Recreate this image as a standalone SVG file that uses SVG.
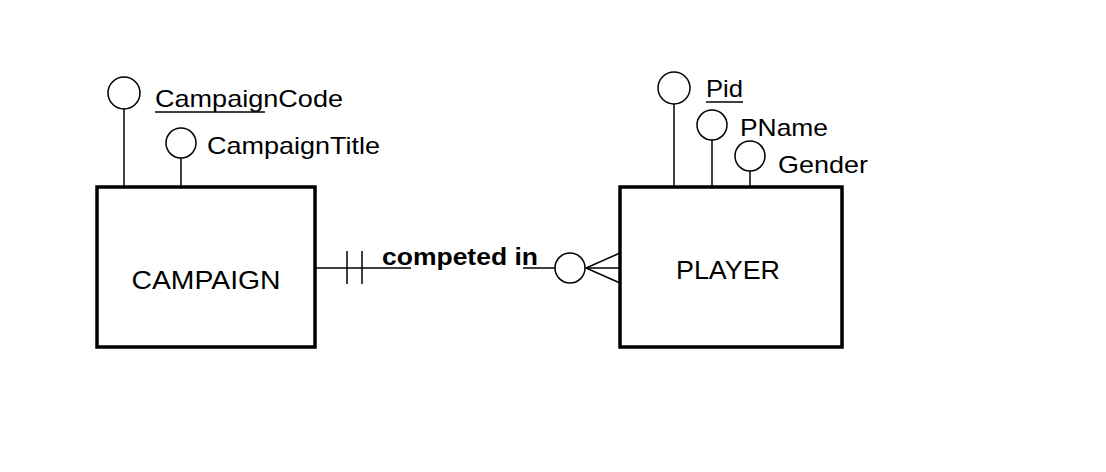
<svg xmlns="http://www.w3.org/2000/svg" width="1106" height="472" viewBox="0 0 1106 472">
<style>
.ent{fill:#fff;stroke:#000;stroke-width:3.5}
.ln{stroke:#000;stroke-width:1.5;fill:none}
.c{fill:#fff;stroke:#000;stroke-width:1.5}
text{font-family:"Liberation Sans",Arial,sans-serif;font-size:24px;fill:#000}
.big{font-size:26px;text-anchor:middle}
</style>
<rect width="1106" height="472" fill="#fff"/>
<g id="CAMPAIGN">
<line class="ln" x1="124" y1="109" x2="124" y2="187"/>
<circle class="c" cx="124" cy="93" r="16"/>
<text x="155" y="107" textLength="188" lengthAdjust="spacingAndGlyphs">CampaignCode</text>
<line class="ln" x1="155" y1="112" x2="265" y2="112"/>
<line class="ln" x1="181" y1="158" x2="181" y2="187"/>
<circle class="c" cx="181" cy="143" r="15"/>
<text x="207" y="154" textLength="173" lengthAdjust="spacingAndGlyphs">CampaignTitle</text>
<rect class="ent" x="97" y="187" width="218" height="160"/>
<text class="big" x="206" y="289" textLength="149" lengthAdjust="spacingAndGlyphs">CAMPAIGN</text>
</g>
<g id="PLAYER">
<line class="ln" x1="674" y1="104" x2="674" y2="187"/>
<circle class="c" cx="674" cy="88" r="16"/>
<text x="706" y="97" textLength="37" lengthAdjust="spacingAndGlyphs">Pid</text>
<line class="ln" x1="706" y1="102" x2="743" y2="102"/>
<line class="ln" x1="712" y1="140" x2="712" y2="187"/>
<circle class="c" cx="712" cy="125" r="15"/>
<text x="740" y="136" textLength="88" lengthAdjust="spacingAndGlyphs">PName</text>
<line class="ln" x1="750" y1="171" x2="750" y2="187"/>
<circle class="c" cx="750" cy="156" r="15"/>
<text x="778" y="173" textLength="90" lengthAdjust="spacingAndGlyphs">Gender</text>
<rect class="ent" x="620" y="187" width="222" height="160"/>
<text class="big" x="728" y="279" textLength="104" lengthAdjust="spacingAndGlyphs">PLAYER</text>
</g>
<g id="connectors">
<line class="ln" x1="315" y1="268" x2="411" y2="268"/>
<line class="ln" x1="347" y1="251" x2="347" y2="284"/>
<line class="ln" x1="362" y1="251" x2="362" y2="284"/>
<line class="ln" x1="523" y1="268" x2="555" y2="268"/>
<circle class="c" cx="570" cy="268" r="15"/>
<polyline class="ln" points="620,253 586,268 620,283"/>
<line class="ln" x1="586" y1="268" x2="620" y2="268"/>
<text x="382" y="265" font-weight="bold" textLength="156" lengthAdjust="spacingAndGlyphs">competed in</text>
</g>
</svg>
